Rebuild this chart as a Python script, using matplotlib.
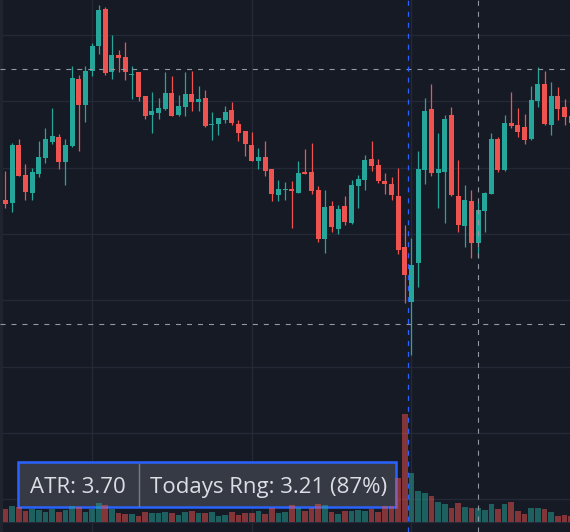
import numpy as np
import matplotlib
matplotlib.use('Agg')
import matplotlib.pyplot as plt
from matplotlib.patches import Rectangle

# daily OHLC
opens = [145.11, 144.71, 153.41, 148.88, 146.22, 149.04, 151.45, 153.86, 154.62, 150.85,
         153.26, 163.36, 159.44, 164.57, 168.34, 173.92, 164.42, 166.98, 166.68, 164.04,
         164.42, 160.80, 157.93, 158.24, 158.84, 161.25, 157.93, 159.14, 161.10, 159.90,
         160.50, 156.43, 156.58, 157.18, 158.69, 156.58, 155.52, 153.41, 151.00, 151.60,
         149.79, 145.87, 146.55, 146.77, 146.17, 149.34, 149.34, 146.62, 139.23, 144.21,
         140.74, 144.21, 141.65, 147.23, 148.13, 151.30, 150.39, 147.98, 147.53, 145.72,
         138.03, 129.73, 135.61, 149.64, 158.84, 149.19, 149.34, 157.93, 145.72, 141.19,
         144.96, 138.63, 143.45, 146.02, 154.31, 149.64, 156.73, 156.43, 156.12, 154.31,
         160.05, 162.61, 156.43, 160.80, 159.14, 157.78]
highs = [149.49, 153.71, 154.31, 150.54, 149.94, 154.01, 155.97, 158.99, 155.07, 154.31,
         165.33, 163.97, 165.33, 168.79, 174.53, 174.22, 170.00, 167.74, 168.95, 165.33,
         164.42, 160.80, 161.40, 160.50, 164.42, 163.82, 160.95, 164.42, 164.57, 162.31,
         161.71, 158.39, 157.48, 159.29, 159.90, 157.18, 155.52, 155.37, 152.96, 154.01,
         149.79, 148.13, 147.83, 147.98, 151.00, 152.81, 153.71, 147.23, 146.62, 144.96,
         144.36, 145.72, 148.13, 148.88, 151.90, 154.01, 151.30, 149.19, 148.58, 149.94,
         141.34, 139.38, 152.51, 160.50, 162.61, 155.22, 157.93, 159.14, 151.15, 147.38,
         146.62, 144.81, 146.32, 155.22, 154.62, 157.93, 161.40, 158.99, 158.09, 162.31,
         165.17, 164.57, 162.91, 162.16, 160.35, 158.69]
lows = [143.91, 143.35, 148.73, 145.11, 145.16, 148.58, 150.70, 153.56, 149.79, 147.38,
        153.11, 152.51, 156.88, 163.82, 167.14, 163.97, 163.36, 164.42, 163.21, 160.35,
        160.05, 157.33, 155.22, 157.33, 158.69, 157.78, 157.78, 157.78, 158.54, 158.54,
        156.12, 154.16, 154.92, 156.73, 156.43, 154.01, 151.75, 151.00, 149.79, 148.73,
        144.96, 144.96, 145.11, 140.89, 146.17, 149.04, 146.02, 138.78, 137.12, 140.29,
        139.99, 141.34, 141.49, 143.91, 146.62, 149.49, 147.68, 146.02, 145.11, 136.97,
        129.58, 121.74, 131.99, 147.53, 148.73, 143.91, 141.65, 145.72, 140.29, 138.03,
        136.37, 136.37, 140.29, 146.02, 149.34, 149.49, 155.97, 154.62, 153.56, 154.16,
        159.14, 156.43, 154.92, 157.18, 156.43, 156.28]
closes = [144.51, 153.41, 148.78, 146.37, 149.34, 151.60, 154.31, 154.77, 150.85, 153.41,
          163.52, 159.44, 164.57, 168.34, 173.77, 164.27, 166.98, 166.53, 164.42, 164.12,
          160.65, 157.78, 158.54, 158.99, 161.25, 157.78, 159.29, 161.10, 159.90, 160.35,
          156.28, 156.58, 157.48, 158.39, 156.73, 155.22, 153.56, 151.00, 151.60, 149.49,
          146.02, 146.77, 146.77, 146.47, 149.19, 149.04, 146.47, 139.23, 144.06, 141.04,
          143.76, 141.80, 147.38, 148.28, 151.15, 150.24, 147.98, 147.53, 145.87, 137.57,
          133.80, 135.31, 149.79, 158.54, 149.19, 149.79, 157.33, 145.87, 141.34, 145.11,
          138.63, 143.61, 146.17, 154.31, 149.64, 156.73, 156.28, 155.37, 154.16, 160.20,
          162.61, 156.58, 160.80, 158.84, 157.63, 156.73]
# volume in millions
volumes = [1.25, 1.55, 1.45, 1.05, 1.25, 1.15, 0.95, 1.25, 0.95, 1.15,
           1.55, 1.45, 0.95, 1.25, 1.85, 1.65, 1.25, 0.85, 0.75, 0.75,
           0.55, 0.95, 0.85, 0.85, 0.95, 0.85, 0.65, 0.95, 1.05, 0.85,
           0.85, 0.95, 0.55, 0.65, 0.95, 0.65, 0.85, 0.85, 1.05, 0.75,
           1.35, 0.85, 0.95, 1.65, 1.35, 1.05, 1.35, 1.75, 1.65, 0.95,
           0.75, 1.05, 1.05, 1.15, 1.05, 1.25, 0.95, 1.55, 1.55, 4.35,
           10.75, 4.85, 3.05, 2.85, 2.55, 1.95, 1.75, 1.35, 1.85, 1.45,
           1.35, 1.35, 1.15, 1.75, 1.25, 1.75, 1.95, 1.05, 0.75, 1.35,
           1.35, 1.25, 0.95, 0.55, 0.65, 0.55]

atr_text = 'ATR: 3.70'
rng_text = 'Todays Rng: 3.21 (87%)'
crosshair_prices = [164.83, 126.37]
crosshair_bar = 71
marker_bar = 60.53
grid_bars = [13, 37, 61]
grid_prices = [100, 110, 120, 130, 140, 150, 160, 170]

BG = '#161a25'
GRID = '#252935'
UP = '#26a69a'
DOWN = '#ef5350'

plt.rcParams['lines.scale_dashes'] = False

o = np.array(opens)
h = np.array(highs)
l = np.array(lows)
c = np.array(closes)
x = np.arange(len(o))
up = c >= o
cols = np.where(up, UP, DOWN)

fig = plt.figure(figsize=(5.7, 5.32), dpi=100, facecolor=BG)
ax = fig.add_axes([0, 0, 1, 1])
ax.set_facecolor(BG)
ax.set_xlim(-0.826, 84.82)
ax.set_ylim(95.04, 175.28)
for s in ax.spines.values():
    s.set_visible(False)
ax.set_xticks([])
ax.set_yticks([])

# grid
for g in grid_prices:
    ax.axhline(g, color=GRID, lw=1.0, zorder=0)
ax.axhline(96.55, color=GRID, lw=1.0, zorder=0)
for g in grid_bars:
    ax.axvline(g, color=GRID, lw=1.0, zorder=0)
ax.axvspan(-0.826, -0.376, color='#20242e', lw=0, zorder=0)

# candles
ax.vlines(x, l, h, colors=cols, lw=0.9, zorder=2)
bottoms = np.minimum(o, c)
heights = np.maximum(np.abs(c - o), 0.15)
ax.bar(x, heights, bottom=bottoms, width=0.75, color=cols, lw=0, zorder=3)

# crosshair lines
dash = (0, (3.6, 4.3))
for p in crosshair_prices:
    ax.axhline(p, color='#9598a1', lw=0.8, ls=dash, zorder=4)

# ATR box
x0, x1 = 18.3 / 570, 396.3 / 570
y0, y1 = 1 - 506.8 / 532, 1 - 462.2 / 532
ax.add_patch(Rectangle((x0, y0), x1 - x0, y1 - y0, transform=ax.transAxes,
                       facecolor='#363a45', edgecolor='#2962ff', lw=1.8, zorder=5))
ax.plot([138.5 / 570, 138.5 / 570], [1 - 505.5 / 532, 1 - 463.5 / 532],
        transform=ax.transAxes, color='#787b86', lw=1.0, zorder=6)
ax.text(29.5 / 570, 1 - 492.7 / 532, atr_text, transform=ax.transAxes,
        fontsize=16, family='Open Sans', color='#dcdee4', ha='left', va='baseline', zorder=7)
ax.text(149.5 / 570, 1 - 492.7 / 532, rng_text, transform=ax.transAxes,
        fontsize=16, family='Open Sans', color='#dcdee4', ha='left', va='baseline', zorder=7)

# volume overlay
ax2 = ax.twinx()
ax2.set_ylim(-1.05, 52.15)
ax2.set_axis_off()
vcols = [(38 / 255, 166 / 255, 154 / 255, 0.5) if u else (239 / 255, 83 / 255, 80 / 255, 0.5) for u in up]
ax2.bar(x, volumes, width=0.85, color=vcols, lw=0, zorder=2)
ax2.axvline(marker_bar, color='#2962ff', lw=0.9, ls=dash, zorder=4)
ax2.axvline(crosshair_bar, color='#9598a1', lw=0.8, ls=dash, zorder=4)
ax2.set_xlim(-0.826, 84.82)

fig.savefig('out.png', dpi=100, facecolor=BG)
